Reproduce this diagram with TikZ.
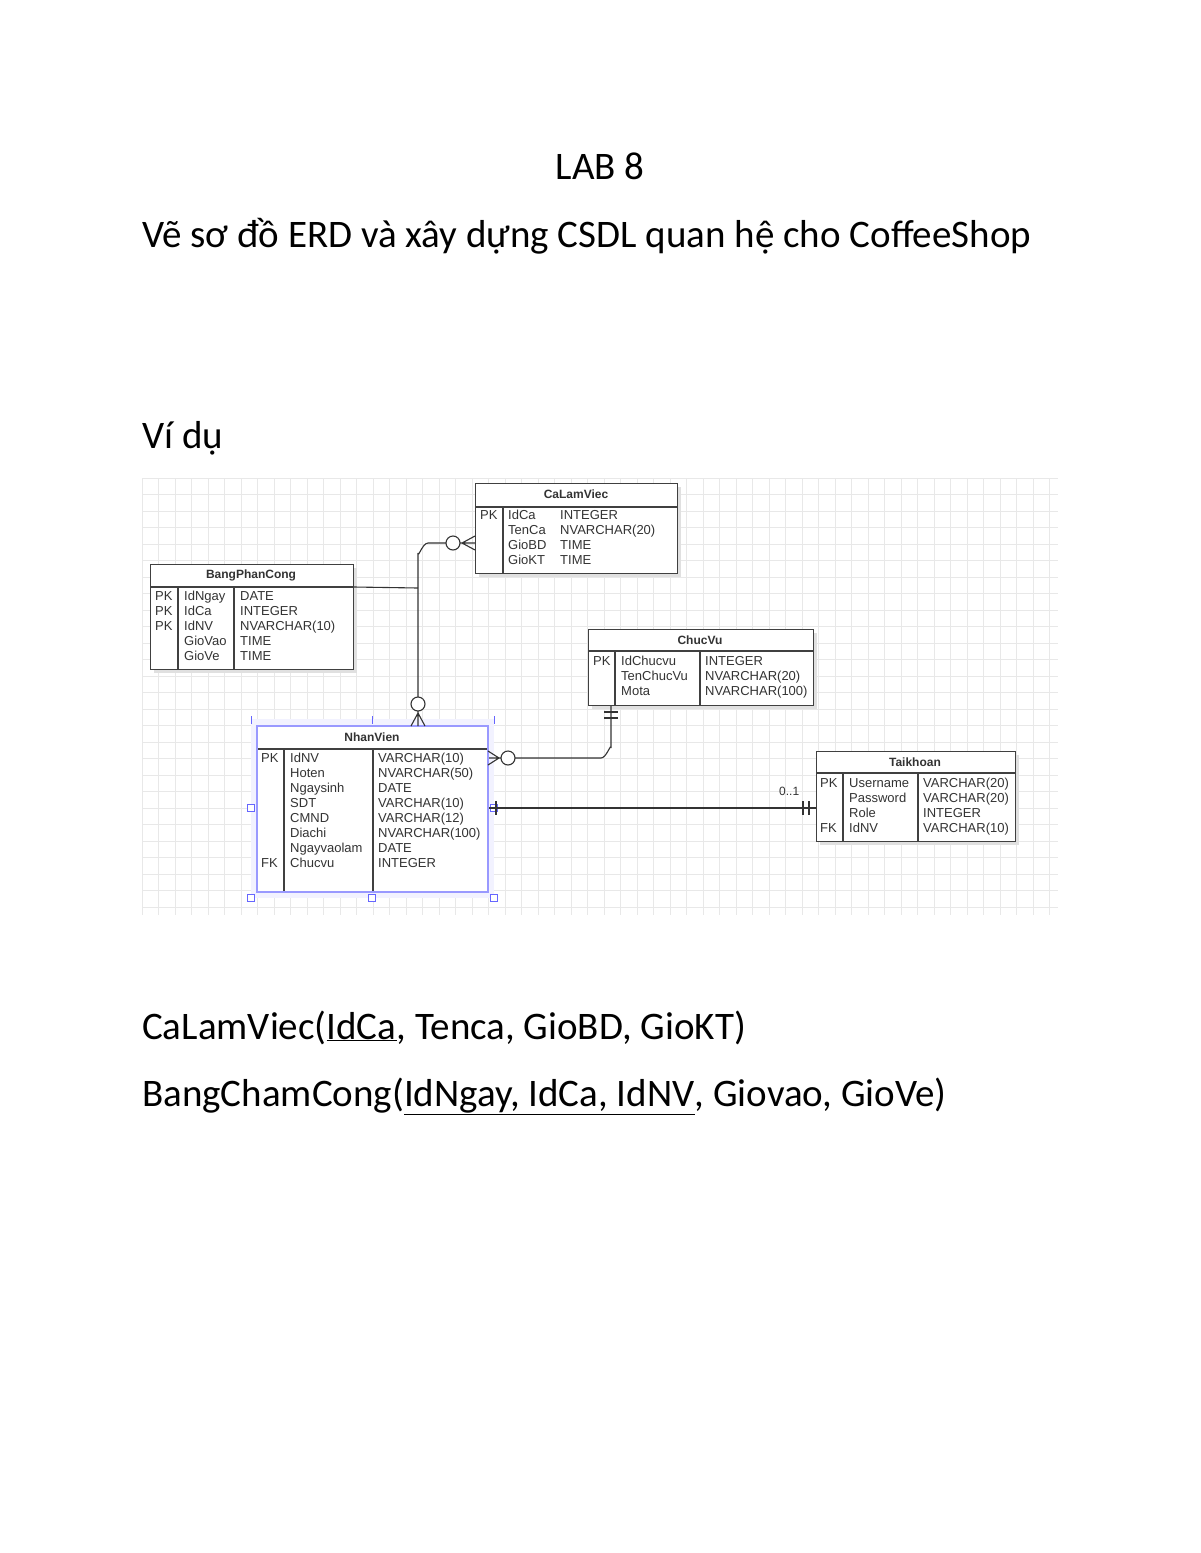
\documentclass[tikz,border=0pt]{standalone}
\usepackage{fontspec}
\setmainfont{Carlito}
\newfontfamily\erdfont{Liberation Sans}
\begin{document}
\begin{tikzpicture}[x=1pt,y=-1pt,
  ent/.style={draw=black!75,line width=1.1pt,fill=white,anchor=north west,inner sep=0pt},
  hd/.style={font=\erdfont\fontsize{12}{12}\selectfont\bfseries,text=black!80},
  cell/.style={font=\erdfont\fontsize{13}{15}\selectfont,text=black!80,anchor=north west,inner sep=0pt,align=left},
  conn/.style={draw=black!80,line width=1.1pt},
  big/.style={font=\fontsize{39}{42}\selectfont,anchor=base west,inner sep=0pt}]
\useasboundingbox (0,0) rectangle (1200,1553);
\fill[white] (0,0) rectangle (1200,1553);
% grid
\foreach \i in {0,...,55} \draw[black!9,line width=0.8pt] (142+16.5*\i,478) -- (142+16.5*\i,915);
\foreach \i in {0,...,26} \draw[black!9,line width=0.8pt] (142,478+16.5*\i) -- (1058,478+16.5*\i);
% texts
\node[font=\fontsize{39}{42}\selectfont,anchor=base,inner sep=0pt] (t1) at (600,179) {LAB 8};
\node[big] (t2) at (142,247) {Vẽ sơ đồ ERD và xây dựng CSDL quan hệ cho CoffeeShop};
\node[big] (t3) at (142,448) {Ví dụ};
\node[big] (t4) at (142,1039) {CaLamViec(\underline{IdCa}, Tenca, GioBD, GioKT)};
\node[big] (t5) at (142,1106) {BangChamCong(\underline{IdNgay, IdCa, IdNV}, Giovao, GioVe)};

% CaLamViec
\fill[black!12] (479,487) rectangle (681,577);
\node[ent,minimum width=202,minimum height=90] (cv) at (475,483) {};
\draw[black!75,line width=1.1pt] (475,507)--(677,507) (503,507)--(503,573);
\node[hd] at (576,494) {CaLamViec};
\node[cell] at (480,510) {PK};
\node[cell] at (508,510) {IdCa\\TenCa\\GioBD\\GioKT};
\node[cell] at (560,510) {INTEGER\\NVARCHAR(20)\\TIME\\TIME};
% BangPhanCong
\fill[black!12] (154,568) rectangle (357,673);
\node[ent,minimum width=203,minimum height=105] (bpc) at (150,564) {};
\draw[black!75,line width=1.1pt] (150,587)--(353,587) (178,587)--(178,669) (234,587)--(234,669);
\node[hd] at (251,575) {BangPhanCong};
\node[cell] at (155,591) {PK\\PK\\PK};
\node[cell] at (184,591) {IdNgay\\IdCa\\IdNV\\GioVao\\GioVe};
\node[cell] at (240,591) {DATE\\INTEGER\\NVARCHAR(10)\\TIME\\TIME};
% ChucVu
\fill[black!12] (592,633) rectangle (817,709);
\node[ent,minimum width=225,minimum height=76] (chv) at (588,629) {};
\draw[black!75,line width=1.1pt] (588,651)--(813,651) (615,651)--(615,705) (700,651)--(700,705);
\node[hd] at (700,640) {ChucVu};
\node[cell] at (593,656) {PK};
\node[cell] at (621,656) {IdChucvu\\TenChucVu\\Mota};
\node[cell] at (705,656) {INTEGER\\NVARCHAR(20)\\NVARCHAR(100)};
% Taikhoan
\fill[black!12] (820,755) rectangle (1019,845);
\node[ent,minimum width=199,minimum height=90] (tk) at (816,751) {};
\draw[black!75,line width=1.1pt] (816,773)--(1015,773) (843,773)--(843,841) (918,773)--(918,841);
\node[hd] at (915,762) {Taikhoan};
\node[cell] at (820,778) {PK\\\\\\FK};
\node[cell] at (849,778) {Username\\Password\\Role\\IdNV};
\node[cell] at (923,778) {VARCHAR(20)\\VARCHAR(20)\\INTEGER\\VARCHAR(10)};
% NhanVien
\fill[blue!5] (251,719) rectangle (494,898);
\node[ent,minimum width=231,minimum height=166] (nv) at (257,726) {};
\draw[black!75,line width=1.1pt] (257,749)--(488,749) (284,749)--(284,892) (373,749)--(373,892);
\draw[blue!40,line width=1.2pt] (257,726) rectangle (488,892);
\node[hd] at (372,737) {NhanVien};
\node[cell] at (261,753) {PK\\\\\\\\\\\\\\FK};
\node[cell] at (290,753) {IdNV\\Hoten\\Ngaysinh\\SDT\\CMND\\Diachi\\Ngayvaolam\\Chucvu};
\node[cell] at (378,753) {VARCHAR(10)\\NVARCHAR(50)\\DATE\\VARCHAR(10)\\VARCHAR(12)\\NVARCHAR(100)\\DATE\\INTEGER};
% selection handles
\foreach \p in {(251,898),(372,898),(494,898),(251,808),(494,808)}
  \draw[blue!60,line width=0.8pt,fill=white] \p ++(-3.5,-3.5) rectangle ++(7,7);
\foreach \x in {251,372,494} \draw[blue!60,line width=0.8pt] (\x,716)--(\x,724);

% connectors
\coordinate (j) at (418,588);
\draw[conn] (bpc.north east |- 0,587) -- (j);
\draw[conn] (418,697) -- (418,553) to[out=-90,in=180] (428,543) -- (446,543);
\draw[conn,fill=white] (453,543) circle (7);
\draw[conn] (460,543) -- (cv.west |- 0,543) (462,543) -- (475,536) (462,543) -- (475,550);
\draw[conn,fill=white] (418,704) circle (7);
\draw[conn] (418,711) -- (nv.north -| 418,0) (418,713) -- (411,726) (418,713) -- (425,726);
% ChucVu - NhanVien
\draw[conn] (chv.south -| 611,0) -- (611,748) to[out=90,in=0] (601,758) -- (515,758);
\draw[conn] (604,712)--(618,712) (604,718)--(618,718);
\draw[conn,fill=white] (508,758) circle (7);
\draw[conn] (501,758) -- (nv.east |- 0,758) (499,758) -- (488,751) (499,758) -- (488,765);
% NhanVien - Taikhoan
\draw[conn] (nv.east |- 0,808) -- (tk.west |- 0,808);
\draw[conn] (496,801)--(496,815);
\draw[conn] (803,801)--(803,815) (809,801)--(809,815);
\node[cell,font=\erdfont\fontsize{12}{12}\selectfont] (lab) at (779,787) {0..1};
\end{tikzpicture}
\end{document}
